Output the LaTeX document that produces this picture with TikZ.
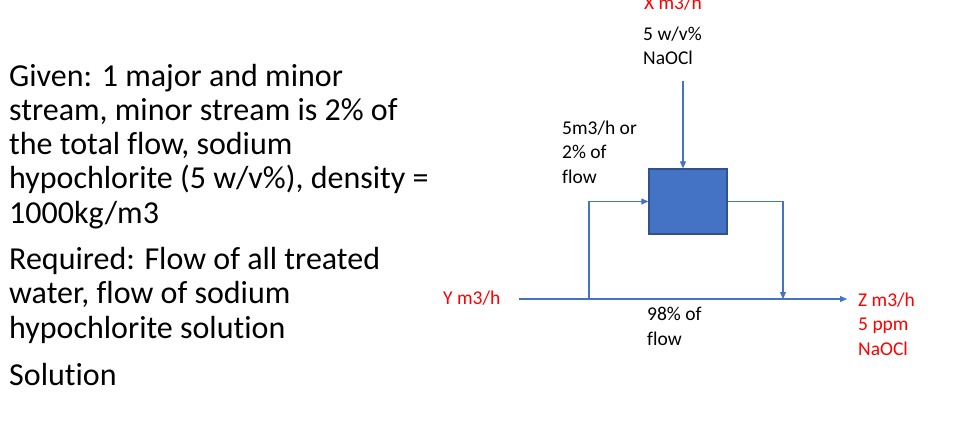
\documentclass[tikz,border=0pt]{standalone}
\usepackage{fontspec}
\setmainfont{Carlito}[Ligatures={NoCommon}]
\usetikzlibrary{arrows.meta}
\definecolor{flowblue}{HTML}{4472C4}
\definecolor{boxedge}{HTML}{2F528F}
\definecolor{lblred}{HTML}{FF0000}
\tikzset{
  bigtext/.style={anchor=base west, inner sep=0pt, align=left, font=\fontsize{32}{34.2}\selectfont},
  smalltext/.style={anchor=base west, inner sep=0pt, align=left, font=\fontsize{19.5}{24.5}\selectfont},
  redtext/.style={smalltext, text=lblred},
  pipe/.style={draw=flowblue, line width=1.1pt},
  flowarrow/.style={pipe, -{Triangle[length=7pt,width=6pt]}},
  tank/.style={draw=boxedge, fill=flowblue, line width=1.3pt, minimum width=78pt, minimum height=65pt, inner sep=0pt}
}
\begin{document}
\begin{tikzpicture}[x=1pt,y=-1pt]
\useasboundingbox (0,0) rectangle (971,428);
% left text (base anchor = last line's baseline)
\node[bigtext] (given) at (9,223) {Given: 1 major and minor\\stream, minor stream is 2\% of\\the total flow, sodium\\hypochlorite (5 w/v\%), density =\\1000kg/m3};
\node[bigtext] (req) at (9,338) {Required: Flow of all treated\\water, flow of sodium\\hypochlorite solution};
\node[bigtext] (sol) at (9,385) {Solution};
% diagram
\node[tank] (box) at (688,201.5) {};
\coordinate (top) at (683,81);
\coordinate (yin) at (519,299);
\coordinate (split) at (589,299);
\coordinate (merge) at (783,299);
\coordinate (zout) at (847,299);
\draw[flowarrow] (top) -- (top |- box.north);
\draw[flowarrow] (split) |- (box.west);
\draw[flowarrow] (box.east) -| (merge);
\draw[flowarrow] (yin) -- (zout);
% labels
\node[redtext, anchor=base] (xlbl) at (673,10) {X m3/h};
\node[smalltext] (conc) at (643,65) {5 w/v\%\\NaOCl};
\node[smalltext] (minor) at (562,183) {5m3/h or\\2\% of\\flow};
\node[smalltext] (major) at (647,345) {98\% of\\flow};
\node[redtext] (ylbl) at (443,304) {Y m3/h};
\node[redtext] (zlbl) at (858,355) {Z m3/h\\5 ppm\\NaOCl};
\end{tikzpicture}
\end{document}
